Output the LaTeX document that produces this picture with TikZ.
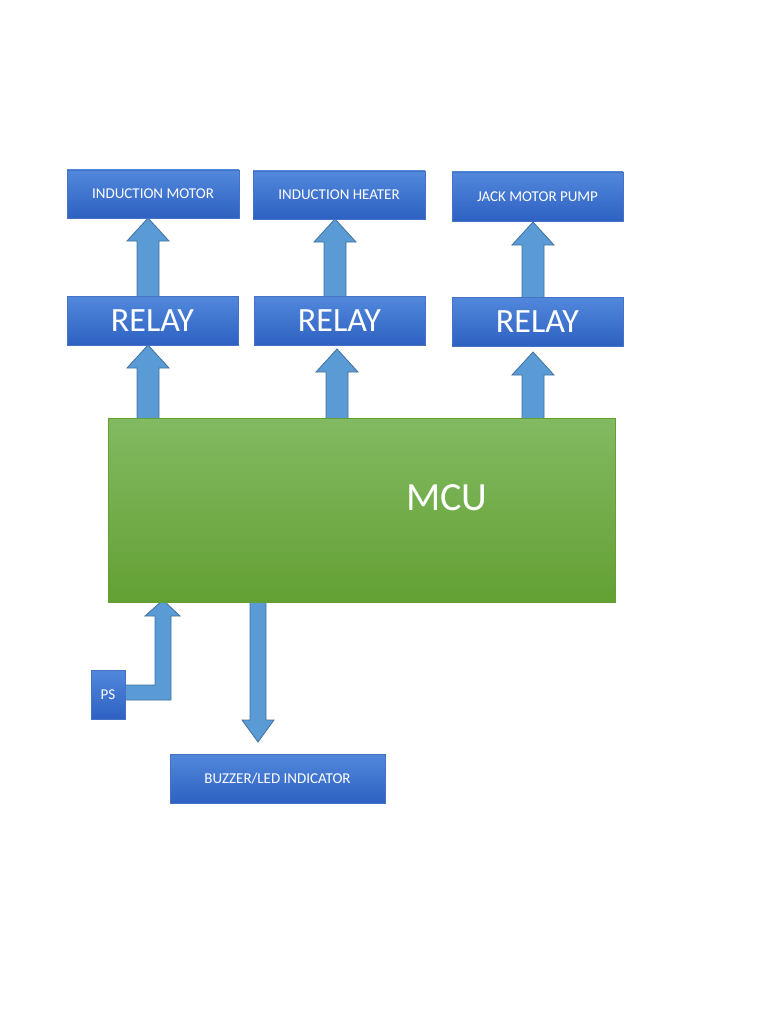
\documentclass[tikz,border=0pt]{standalone}
\usepackage{fontspec}
\setmainfont{Carlito}
\usetikzlibrary{calc,shadows}
\definecolor{boxtop}{HTML}{5288DC}
\definecolor{boxbot}{HTML}{2E61C2}
\definecolor{boxline}{HTML}{4472C4}
\definecolor{arrfill}{HTML}{5B9BD5}
\definecolor{arrline}{HTML}{41719C}
\definecolor{gtop}{HTML}{82BA62}
\definecolor{gbot}{HTML}{63A033}
\tikzset{
 x=1pt,y=-1pt,
 blk/.style={draw=boxline,top color=boxtop,bottom color=boxbot,text=white,inner sep=0pt,font=\fontsize{15}{15}\selectfont},
 rel/.style={blk,font=\fontsize{34}{34}\selectfont},
 arr/.style={fill=arrfill,draw=arrline,line width=0.8pt},
}
\newcommand{\txt}[1]{\textcolor{black!60}{}#1}
\begin{document}
\begin{tikzpicture}
\useasboundingbox (0,0) rectangle (768,1024);
% arrows first
\newcommand{\uarr}[4]{% cx, ybottom, ytop, headheight
 \draw[arr] (#1-11,#2) -- (#1-11,#3+#4) -- (#1-21,#3+#4) -- (#1,#3) -- (#1+21,#3+#4) -- (#1+11,#3+#4) -- (#1+11,#2) -- cycle;}
\uarr{148}{297}{218}{23}
\uarr{148}{419}{345}{23}
\uarr{335}{297}{219}{23}
\uarr{337}{419}{349}{23}
\uarr{533}{298}{222}{23}
\uarr{533}{419}{352}{23}
% down arrow
\draw[arr] (250,601) -- (250,720) -- (242,720) -- (258,742) -- (274,720) -- (266,720) -- (266,601) -- cycle;
% PS L arrow
\draw[arr] (124,685) -- (155,685) -- (155,616) -- (145,616) -- (163,600) -- (180,616) -- (171,616) -- (171,700) -- (124,700) -- cycle;
% boxes
\node[blk,minimum width=172,minimum height=48] (im) at (153,194) {INDUCTION MOTOR};
\node[blk,minimum width=172,minimum height=48] (ih) at (339,195) {INDUCTION HEATER};
\node[blk,minimum width=171,minimum height=49] (jp) at (537.5,196.5) {JACK MOTOR PUMP};
\node[rel,minimum width=171,minimum height=49] (r1) at (152.5,320.5) {RELAY};
\node[rel,minimum width=171,minimum height=49] (r2) at (339.5,320.5) {RELAY};
\node[rel,minimum width=171,minimum height=49] (r3) at (537.5,321.5) {RELAY};
\node[draw=gbot,top color=gtop,bottom color=gbot,minimum width=507,minimum height=184,inner sep=0pt] (mcu) at (361.5,510) {};
\node[text=white,font=\fontsize{40}{40}\selectfont] (mcut) at (447,498) {MCU};
\node[blk,minimum width=34,minimum height=49] (ps) at (108,694.5) {PS};
\node[blk,minimum width=215,minimum height=49] (bz) at (277.5,778.5) {BUZZER/LED INDICATOR};
\end{tikzpicture}
\end{document}
